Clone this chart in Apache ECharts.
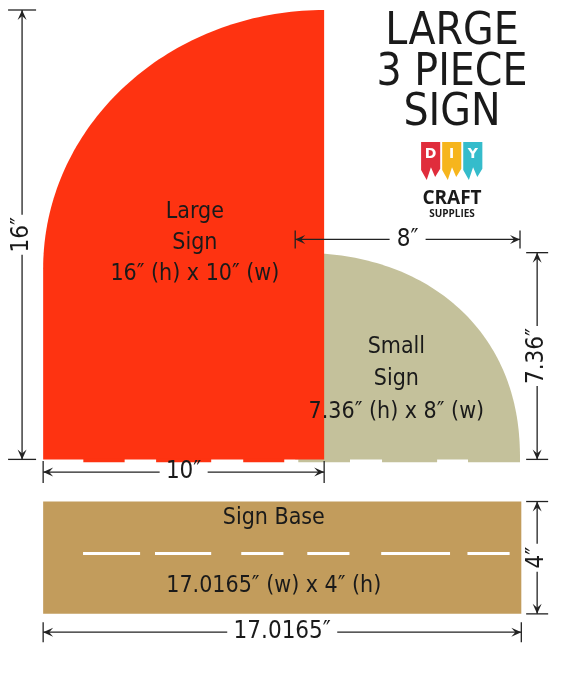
<!DOCTYPE html>
<html><head><meta charset="utf-8">
<script src="https://cdn.jsdelivr.net/npm/echarts@6/dist/echarts.min.js"></script>
<style>html,body{margin:0;padding:0;background:#fff}#c{width:570px;height:675px}</style>
</head><body><div id="c"></div>
<script>
// Piece dimensions (inches)
const pieces = ['Large Sign', 'Small Sign', 'Sign Base'];
const heights = [16, 7.36, 4];
const widths = [10, 8, 17.0165];
const dimLabels = ['16″', '10″', '7.36″', '8″', '4″', '17.0165″'];
const pieceLabels = [['Large', 'Sign', '16″ (h) x 10″ (w)'], ['Small', 'Sign', '7.36″ (h) x 8″ (w)'], ['Sign Base', '17.0165″ (w) x 4″ (h)']];
const titleLines = ['LARGE', '3 PIECE', 'SIGN'];
// layout (inches)
const smallX0 = 8.97, curveStartY = 6.8, baseTop = -1.5, baseGap = 0.1;
const tabsLarge = [[1.43, 2.9], [4.02, 5.98], [7.12, 8.58]];
const tabsSmall = [[9.08, 10.92], [12.06, 14.02], [15.12, 16.97]];
const dashes = [[1.42, 3.45], [3.98, 5.98], [7.05, 8.55], [9.4, 10.9], [12.03, 14.48], [15.1, 16.6]];

const FONT = "'Liberation Sans Narrow','DejaVu Sans Condensed','Open Sans',sans-serif";
const chart = echarts.init(document.getElementById('c'));
const se = (t, p) => [Math.pow(Math.cos(t), 2 / p), Math.pow(Math.sin(t), 2 / p)];

function renderItem(params, api) {
  const c = (x, y) => api.coord([x, y]);
  const kids = [];
  const poly = (pts, fill, z) => kids.push({type: 'polygon', z2: z || 0, shape: {points: pts.map(p => c(p[0], p[1]))}, style: {fill: fill}});
  const line = (a, b, w) => kids.push({type: 'line', z2: 5, shape: {x1: a[0], y1: a[1], x2: b[0], y2: b[1]}, style: {stroke: '#222', lineWidth: w || 1.3}});
  const text = (x, y, s, size, opts) => kids.push(Object.assign({type: 'text', z2: 10, x: c(x, y)[0], y: c(x, y)[1], style: Object.assign({text: s, fontSize: size, fontFamily: FONT, fill: '#1a1a1a', align: 'center', verticalAlign: 'middle'}, opts && opts.style)}, opts && opts.el));
  const arrowHead = (tip, dir) => {
    const L = 10, W = 4.5; const [dx, dy] = dir; const bx = tip[0] - dx * L, by = tip[1] - dy * L;
    kids.push({type: 'polygon', z2: 6, shape: {points: [tip, [bx - dy * W, by + dx * W], [tip[0] - dx * 6, tip[1] - dy * 6], [bx + dy * W, by - dx * W]]}, style: {fill: '#222'}});
  };
  const hDim = (x1, x2, y, capLen, label, gap) => {
    const a = c(x1, y), b = c(x2, y), mid = (a[0] + b[0]) / 2;
    line(a, [mid - gap, a[1]]); line([mid + gap, a[1]], b);
    arrowHead(a, [-1, 0]); arrowHead(b, [1, 0]);
    line([a[0], a[1] - capLen], [a[0], a[1] + capLen]); line([b[0], b[1] - capLen], [b[0], b[1] + capLen]);
    kids.push({type: 'text', z2: 10, x: mid, y: a[1], style: {text: label, fontSize: 24, fontFamily: FONT, fill: '#1a1a1a', align: 'center', verticalAlign: 'middle'}});
  };
  const vDim = (x, y1, y2, capLen, label, gap) => {
    const a = c(x, y1), b = c(x, y2), mid = (a[1] + b[1]) / 2;
    line(a, [a[0], mid + gap]); line([a[0], mid - gap], b);
    arrowHead(a, [0, 1]); arrowHead(b, [0, -1]);
    line([a[0] - capLen, a[1]], [a[0] + capLen, a[1]]); line([b[0] - capLen, b[1]], [b[0] + capLen, b[1]]);
    kids.push({type: 'text', z2: 10, x: a[0], y: mid, rotation: Math.PI / 2, style: {text: label, fontSize: 24, fontFamily: FONT, fill: '#1a1a1a', align: 'center', verticalAlign: 'middle'}});
  };

  // Small sign (rounded quarter)
  const sh = heights[1], sw = widths[1];
  const sp = [[smallX0, 0]];
  for (let i = 0; i <= 80; i++) { const t = Math.PI / 2 * i / 80; const q = se(t, 2.2); sp.push([smallX0 + sw * q[0], sh * q[1]]); }
  poly(sp, '#c4c19b', 1);
  tabsSmall.forEach(t => poly([[t[0], 0.02], [t[1], 0.02], [t[1], -baseGap], [t[0], -baseGap]], '#c4c19b', 1));
  // Large sign
  const lh = heights[0], lw = widths[0];
  const lp = [[0, 0], [lw, 0], [lw, lh]];
  for (let i = 0; i <= 80; i++) { const t = Math.PI / 2 * (1 - i / 80); const q = se(t, 2); lp.push([lw - lw * q[0], curveStartY + (lh - curveStartY) * q[1]]); }
  poly(lp, '#fe3311', 2);
  tabsLarge.forEach(t => poly([[t[0], 0.02], [t[1], 0.02], [t[1], -baseGap], [t[0], -baseGap]], '#fe3311', 2));
  // Base
  const bw = widths[2], bh = heights[2];
  poly([[0, baseTop], [bw, baseTop], [bw, baseTop - bh], [0, baseTop - bh]], '#c29c5c', 1);
  dashes.forEach(d => { const a = c(d[0], baseTop - 1.85), b = c(d[1], baseTop - 1.85); kids.push({type: 'line', z2: 4, shape: {x1: a[0], y1: a[1], x2: b[0], y2: b[1]}, style: {stroke: '#fff', lineWidth: 3}}); });

  // piece labels
  text(lw / 2 + 0.4, 8.8, pieceLabels[0][0], 23); text(lw / 2 + 0.4, 7.7, pieceLabels[0][1], 23); text(lw / 2 + 0.4, 6.6, pieceLabels[0][2], 23);
  text(smallX0 + 3.6, 4.0, pieceLabels[1][0], 23); text(smallX0 + 3.6, 2.85, pieceLabels[1][1], 23); text(smallX0 + 3.6, 1.7, pieceLabels[1][2], 23);
  text(bw / 2 - 0.3, baseTop - 0.6, pieceLabels[2][0], 23); text(bw / 2 - 0.3, baseTop - 3.0, pieceLabels[2][1], 23);

  // dimensions
  vDim(-0.75, 0, lh, 14, dimLabels[0], 20);
  hDim(0, lw, -0.45, 11, dimLabels[1], 24);
  vDim(17.58, 0, sh, 11, dimLabels[2], 30);
  hDim(smallX0, smallX0 + sw, sh + 0.47, 9, dimLabels[3], 18);
  vDim(17.58, baseTop - bh, baseTop, 11, dimLabels[4], 14);
  hDim(0, bw, baseTop - bh - 0.65, 10, dimLabels[5], 55);

  // title
  titleLines.forEach((s, i) => text(14.55, 15.2 - i * 1.45, s, 44));
  // logo
  const cols = ['#e02d3c', '#f6b51d', '#35bccb'], letters = ['D', 'I', 'Y'];
  cols.forEach((col, i) => {
    const x0 = 13.45 + i * 0.75;
    poly([[x0, 11.3], [x0 + 0.68, 11.3], [x0 + 0.68, 10.35], [x0 + 0.5, 10.05], [x0 + 0.35, 10.4], [x0 + 0.2, 9.95], [x0, 10.3]], col, 3);
    text(x0 + 0.34, 10.85, letters[i], 14, {style: {fill: '#fff', fontWeight: 'bold', fontFamily: "'DejaVu Sans',sans-serif"}});
  });
  text(14.55, 9.28, 'CRAFT', 19, {style: {fontWeight: 'bold', fontFamily: "'Open Sans',sans-serif"}});
  text(14.55, 8.72, 'SUPPLIES', 10, {style: {fontFamily: "'Open Sans',sans-serif", fontWeight: 'bold'}});

  return {type: 'group', children: kids};
}

chart.setOption({
  animation: false,
  grid: {left: 1, right: 7, top: 10, bottom: 19},
  xAxis: {type: 'value', min: -1.5, max: 18.5, show: false},
  yAxis: {type: 'value', min: -7, max: 16, show: false},
  series: [{type: 'custom', renderItem: renderItem, data: [[0, 0]], silent: true}]
});
</script></body></html>
